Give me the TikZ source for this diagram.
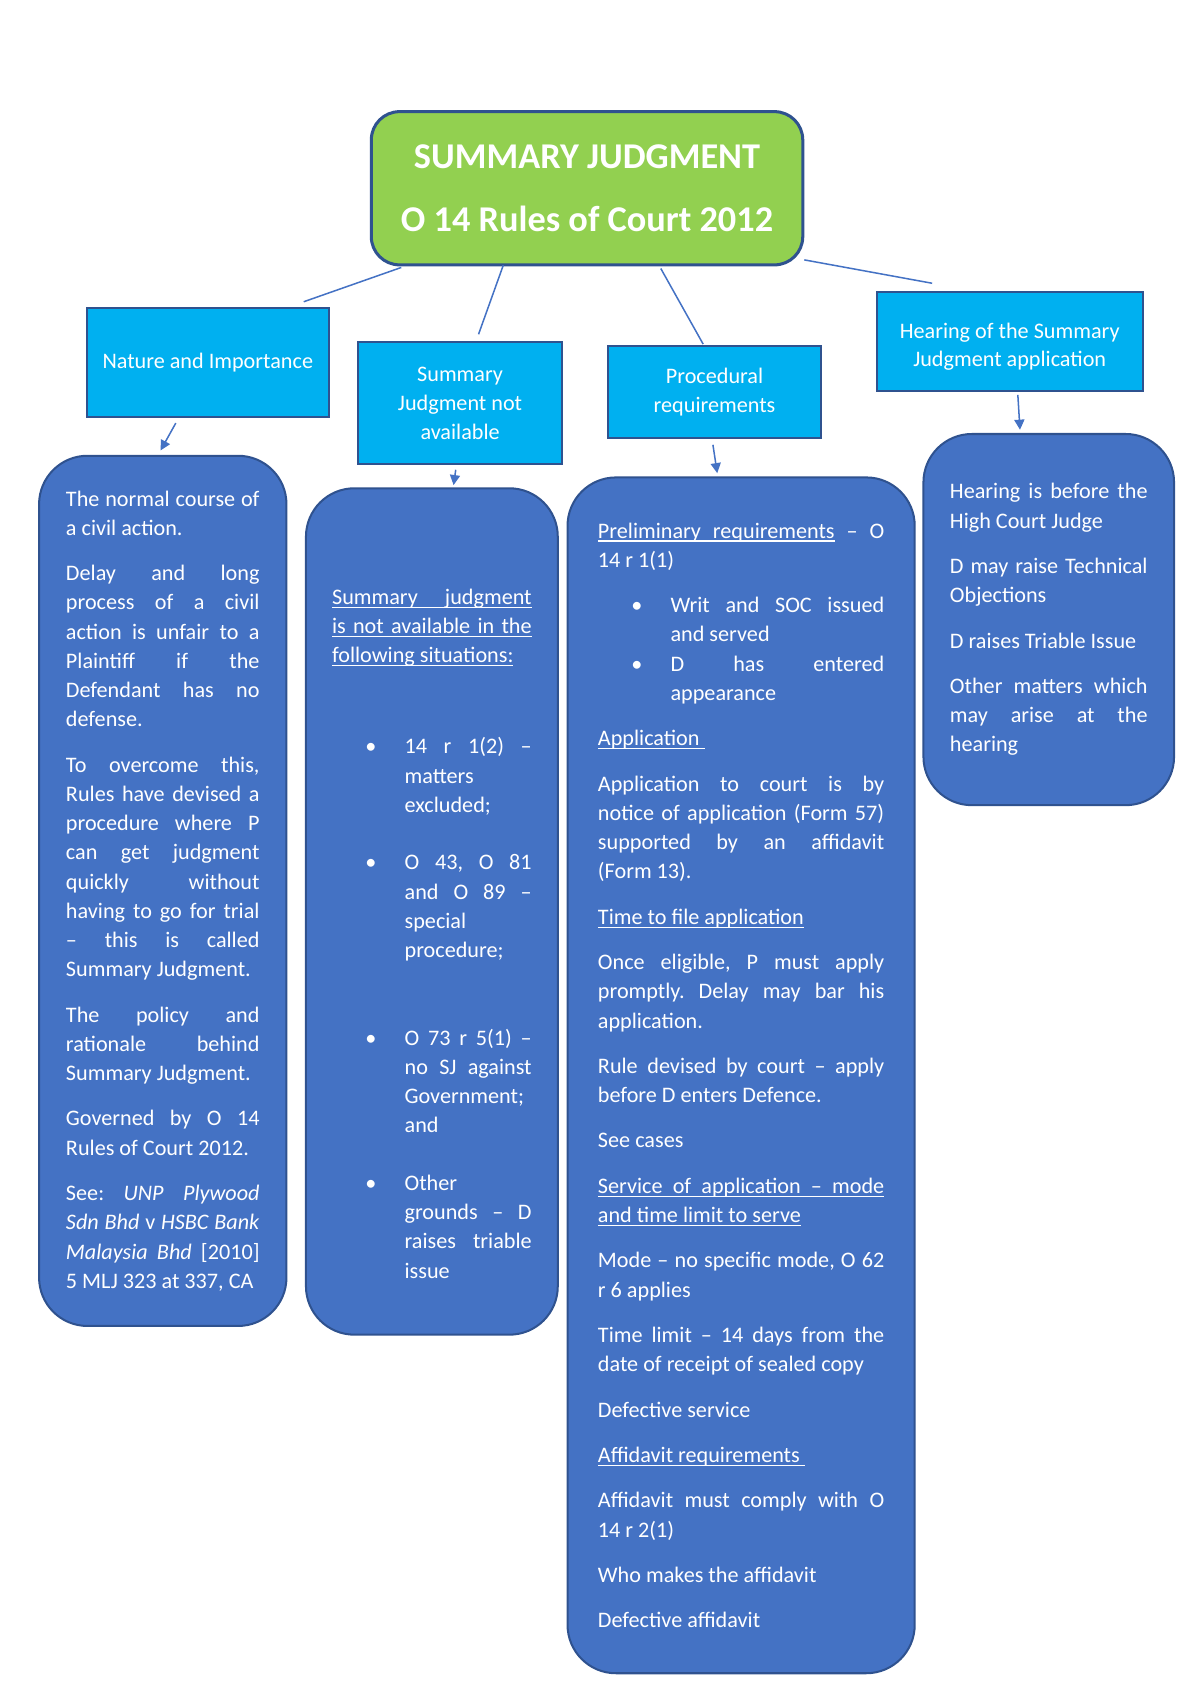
\documentclass[tikz,border=0pt]{standalone}
\usepackage{fontspec}
\setmainfont{Carlito}
\usetikzlibrary{arrows.meta,shapes,positioning,calc}

\definecolor{sjgreen}{HTML}{92D050}
\definecolor{sjborder}{HTML}{2F528F}
\definecolor{sjcyan}{HTML}{00B0F0}
\definecolor{sjpanel}{HTML}{4472C4}

% bullet paragraph for the panels
\newcommand\bitem[1]{\par{\leftskip=36pt\relax\noindent\llap{\textbullet\hspace{14pt}}#1\par}}
\newcommand\panelsetup{\parindent=0pt\parskip=8pt\tolerance=10000\hbadness=10000\emergencystretch=0pt\frenchspacing}
% underlined word and underlined space
\newcommand\uw[1]{\leavevmode\setbox0\hbox{#1}\rlap{\rule[-1.7pt]{\wd0}{0.5pt}}\box0\relax}
\newcommand\us{\leavevmode\leaders\vrule height -1.2pt depth 1.7pt\hskip 0.226em plus 0.113em minus 0.075em\relax}

\begin{document}
\begin{tikzpicture}[x=0.5382pt, y=-0.5382pt,
  title/.style={draw=sjborder, fill=sjgreen, rounded corners=14pt, line width=1.5pt, text=white,
    font=\fontsize{18}{31}\selectfont\bfseries, align=center, minimum width=214pt, minimum height=76pt},
  topic/.style={draw=sjborder, fill=sjcyan, line width=1pt, text=white, align=center,
    font=\fontsize{11}{14.3}\selectfont},
  panel/.style={draw=sjborder, fill=sjpanel, rounded corners=24pt, line width=1pt, text=white,
    align=justify, inner sep=0pt, font=\fontsize{11}{14.5}\selectfont},
  link/.style={draw=sjpanel, line width=0.75pt},
  arr/.style={link, -{Triangle[length=5pt,width=5pt]}}]
\useasboundingbox (0,0) rectangle (1106,1563);

\node[title] (sj) at (541,173.5) {SUMMARY JUDGMENT\\O 14 Rules of Court 2012};

\node[topic, minimum width=120pt, minimum height=53.8pt] (nat) at (191.5,334) {Nature and Importance};
\node[topic, minimum width=101.2pt, minimum height=60.8pt] (notav) at (424,371.5) {Summary\\Judgment not\\available};
\node[topic, minimum width=106pt, minimum height=45.7pt] (proc) at (658.5,361.5) {Procedural\\requirements};
\node[topic, minimum width=131.9pt, minimum height=49pt] (hear) at (930.5,314.5) {\rule{0pt}{13pt}Hearing of the Summary\\Judgment application};

\node[panel, minimum width=122.7pt, minimum height=431.6pt, text width=96pt] (p1) at (150,821) {\panelsetup
The normal course of\linebreak a civil action.

Delay and long\linebreak process of a civil\linebreak action is unfair to a\linebreak Plaintiff if the\linebreak Defendant has no\linebreak defense.

To overcome this,\linebreak Rules have devised a\linebreak procedure where P\linebreak can get judgment\linebreak quickly without\linebreak having to go for trial\linebreak – this is called\linebreak Summary Judgment.

The policy and\linebreak rationale behind\linebreak Summary Judgment.

Governed by O 14\linebreak Rules of Court 2012.

See: \textit{UNP Plywood}\linebreak \textit{Sdn Bhd} v \textit{HSBC Bank}\linebreak \textit{Malaysia Bhd} [2010]\linebreak 5 MLJ 323 at 337, CA};

\node[panel, minimum width=124.9pt, minimum height=419.8pt, text width=99pt] (p2) at (398,840) {\panelsetup
\par\vspace*{7pt}
\uw{Summary}\us\uw{judgment}\linebreak \uw{is}\us\uw{not}\us\uw{available}\us\uw{in}\us\uw{the}\linebreak \uw{following}\us\uw{situations:}
\vspace{22.7pt}
\bitem{14 r 1(2) –\linebreak matters\linebreak excluded;}
\vspace{6pt}
\bitem{O 43, O 81\linebreak and O 89 –\linebreak special\linebreak procedure;}
\vspace{21pt}
\bitem{O 73 r 5(1) –\linebreak no SJ against\linebreak Government;\linebreak and}
\vspace{6pt}
\bitem{Other\linebreak grounds – D\linebreak raises triable\linebreak issue}};

\node[panel, minimum width=172.2pt, minimum height=593.1pt, text width=142pt] (p3) at (683,991) {\panelsetup
\uw{Preliminary}\us\uw{requirements} – O\linebreak 14 r 1(1)
\bitem{Writ and SOC issued\linebreak and served}
\vspace{-8pt}
\bitem{D has entered\linebreak appearance}

\uw{Application\ }

Application to court is by\linebreak notice of application (Form 57)\linebreak supported by an affidavit\linebreak (Form 13).

\uw{Time}\us\uw{to}\us\uw{file}\us\uw{application}

Once eligible, P must apply\linebreak promptly. Delay may bar his\linebreak application.

Rule devised by court – apply\linebreak before D enters Defence.

See cases

\uw{Service}\us\uw{of}\us\uw{application}\us\uw{–}\us\uw{mode}\linebreak \uw{and}\us\uw{time}\us\uw{limit}\us\uw{to}\us\uw{serve}

Mode – no specific mode, O 62\linebreak r 6 applies

Time limit – 14 days from the\linebreak date of receipt of sealed copy

Defective service

\uw{Affidavit}\us\uw{requirements\ }

Affidavit must comply with O\linebreak 14 r 2(1)

Who makes the affidavit

Defective affidavit};

\node[panel, minimum width=124.3pt, minimum height=184.1pt, text width=98pt] (p4) at (966.5,571) {\panelsetup
Hearing is before the\linebreak High Court Judge

D may raise Technical\linebreak Objections

D raises Triable Issue

Other matters which\linebreak may arise at the\linebreak hearing};

% lines from the title
\draw[link] ($(sj.south west)+(29,1)$) -- ($(nat.north east)+(-24,-5)$);
\draw[link] ($(sj.south west)+(123,-1)$) -- ($(notav.north)+(17,-6)$);
\draw[link] ($(sj.south)+(68,2)$) -- ($(proc.north)+(-10.5,-1)$);
\draw[link] ($(sj.south east)+(0,-6)$) -- ($(hear.north west)+(52,-7)$);

% arrows to the panels
\draw[arr] ($(nat.south)+(-29.5,5)$) -- ($(p1.north)+(-2,-4)$);
\draw[arr] ($(notav.south)+(-4,4)$) -- ($(p2.north)+(20,-2)$);
\draw[arr] ($(proc.south)+(-1.5,5)$) -- ($(p3.north)+(-22,-3)$);
\draw[arr] ($(hear.south)+(7.5,3)$) -- ($(p4.north)+(-26.5,-3)$);
\end{tikzpicture}
\end{document}
